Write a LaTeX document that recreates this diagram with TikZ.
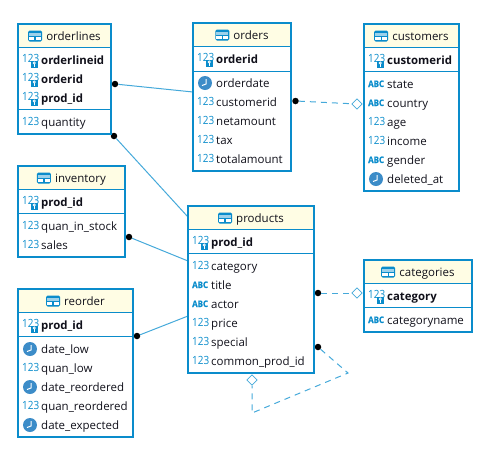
\documentclass[tikz,border=0pt]{standalone}
\usepackage{fontspec}
\setmainfont{Open Sans}
\newfontface\typeface[FakeStretch=0.88]{Open Sans}
\newfontface\abcface[FakeStretch=0.88,FakeBold=0.6]{Open Sans Bold}
\usetikzlibrary{shapes.geometric}
\definecolor{dbblue}{HTML}{0A8CCB}
\definecolor{linkblue}{HTML}{45A9DA}
\definecolor{hdr}{HTML}{FFFDE4}
\definecolor{clk}{HTML}{3C8CC8}
\definecolor{ink}{HTML}{10101A}
\tikzset{
  x=1pt,y=-1pt,
  tblbox/.style={draw=dbblue,line width=2.5pt,rectangle,inner sep=0,outer sep=0},
  rowtext/.style={anchor=base west,inner sep=0,text=ink,font=\fontsize{11.5}{13}\selectfont},
  keytext/.style={rowtext,font=\fontsize{11.4}{13}\selectfont\bfseries},
  typetext/.style={anchor=base west,inner sep=0,text=dbblue,font=\fontsize{11.3}{13}\typeface},
  abctext/.style={anchor=base west,inner sep=0,text=dbblue,font=\fontsize{9}{10}\abcface},
  titletext/.style={anchor=base,inner sep=0,text=ink,font=\fontsize{11.5}{13}\selectfont},
  dotend/.style={circle,fill=black,inner sep=0,minimum size=6.5pt},
  diaend/.style={diamond,draw=linkblue,fill=white,line width=.8pt,inner sep=0,minimum size=10.5pt},
  solidlink/.style={draw=linkblue,line width=1pt},
  dashlink/.style={draw=linkblue,line width=1pt,dash pattern=on 6pt off 5pt},
  tblicon/.pic={
    \fill[rounded corners=1.5pt,dbblue] (-14,-5.5) rectangle (0,5.5);
    \fill[white!60!dbblue] (-12.8,-3.2) rectangle (-1.2,0);
    \fill[white] (-12.8,1.2) rectangle (-7.6,4.3);
    \fill[white] (-6.4,1.2) rectangle (-1.2,4.3);
  },
  clockicon/.pic={
    \fill[clk] (0,0) circle (7);
    \draw[white,line width=1pt] (1,-4) -- (1,1) -- (-3,2.5);
  },
  keybadge/.pic={
    \fill[dbblue] (0,0) rectangle (6.5,6.5);
    \draw[white,line width=.7pt] (3.25,2) circle (1.2);
    \draw[white,line width=.7pt] (3.25,3.2) -- (3.25,5.6);
  },
}
\newcommand{\tbl}[8]{% name x1 y1 x2 y2 headerbottom divider title
  \pgfmathsetmacro{\bw}{#4-#2}\pgfmathsetmacro{\bh}{#5-#3}
  \pgfmathsetmacro{\cxx}{(#2+#4)/2}\pgfmathsetmacro{\cyy}{(#3+#5)/2}
  \fill[hdr] (#2,#3) rectangle (#4,#6);
  \draw[dbblue,line width=1pt] (#2,#6) -- (#4,#6) (#2,#7) -- (#4,#7);
  \node[tblbox,minimum width=\bw pt,minimum height=\bh pt] (#1) at (\cxx,\cyy) {};
  \node[titletext] (#1-title) at ({\cxx+9},{#3+16}) {#8};
  \pic at ([xshift=-4pt,yshift=4pt]#1-title.base west) {tblicon};
}
\newcommand{\rowkey}[3]{%
  \node[typetext] at ({#1+4},{#2+2.7}) {123};
  \pic at ({#1+13},{#2+1}) {keybadge};
  \node[keytext] at ({#1+23},{#2+4}) {#3};
}
\newcommand{\rownum}[3]{%
  \node[typetext] at ({#1+4},{#2+3}) {123};
  \node[rowtext] at ({#1+23},{#2+4}) {#3};
}
\newcommand{\rowabc}[3]{%
  \node[abctext] at ({#1+4},{#2+3}) {ABC};
  \node[rowtext] at ({#1+23},{#2+4}) {#3};
}
\newcommand{\rowclk}[3]{%
  \pic at ({#1+12},{#2}) {clockicon};
  \node[rowtext] at ({#1+23},{#2+4}) {#3};
}
\begin{document}
\begin{tikzpicture}
\useasboundingbox (0,0) rectangle (496,456);
\node[dotend] (d1) at (115,84) {};
\node[dotend] (d2) at (114,136) {};
\node[dotend] (d3) at (129,237) {};
\node[dotend] (d4) at (137,336) {};
\node[dotend] (d5) at (295.5,101) {};
\node[dotend] (d6) at (318,293) {};
\node[dotend] (d7) at (318,347) {};
\coordinate (e1) at (193,92);
\coordinate (e2) at (188,217);
\coordinate (e3) at (188,261);
\coordinate (e4) at (188,316);
\coordinate (c1) at (348,373);
\coordinate (c2) at (252,413);
\draw[solidlink] (d1) -- (e1);
\draw[solidlink] (d2) -- (e2);
\draw[solidlink] (d3) -- (e3);
\draw[solidlink] (d4) -- (e4);
\node[diaend] (m1) at (357,104) {};
\node[diaend] (m2) at (357,293) {};
\node[diaend] (m3) at (252,380) {};
\draw[dashlink] (d5) -- (m1);
\draw[dashlink] (d6) -- (m2);
\draw[dashlink] (d7) -- (c1) -- (c2) -- (m3);
\tbl{orderlines}{18}{24}{111}{134}{47}{109}{orderlines}
\rowkey{18}{60}{orderlineid}
\rowkey{18}{79}{orderid}
\rowkey{18}{98}{prod\_id}
\rownum{18}{122}{quantity}
\tbl{orders}{193}{23}{291}{171}{46}{71}{orders}
\rowkey{193}{59}{orderid}
\rowclk{193}{83}{orderdate}
\rownum{193}{102}{customerid}
\rownum{193}{121}{netamount}
\rownum{193}{140}{tax}
\rownum{193}{159}{totalamount}
\tbl{customers}{364}{24}{459}{191}{47}{71}{customers}
\rowkey{364}{60}{customerid}
\rowabc{364}{84}{state}
\rowabc{364}{103}{country}
\rownum{364}{122}{age}
\rownum{364}{141}{income}
\rowabc{364}{160}{gender}
\rowclk{364}{179}{deleted\_at}
\tbl{inventory}{18}{166}{125}{257}{189}{213}{inventory}
\rowkey{18}{202}{prod\_id}
\rownum{18}{226}{quan\_in\_stock}
\rownum{18}{245}{sales}
\tbl{products}{188}{206}{314}{373}{229}{253}{products}
\rowkey{188}{242}{prod\_id}
\rownum{188}{266}{category}
\rowabc{188}{285}{title}
\rowabc{188}{304}{actor}
\rownum{188}{323}{price}
\rownum{188}{342}{special}
\rownum{188}{361}{common\_prod\_id}
\tbl{reorder}{18}{289}{133}{437}{312}{336.5}{reorder}
\rowkey{18}{325}{prod\_id}
\rowclk{18}{349}{date\_low}
\rownum{18}{368}{quan\_low}
\rowclk{18}{387}{date\_reordered}
\rownum{18}{406}{quan\_reordered}
\rowclk{18}{425}{date\_expected}
\tbl{categories}{364}{260}{472}{332}{283}{307}{categories}
\rowkey{364}{296}{category}
\rowabc{364}{320}{categoryname}
\end{tikzpicture}
\end{document}
